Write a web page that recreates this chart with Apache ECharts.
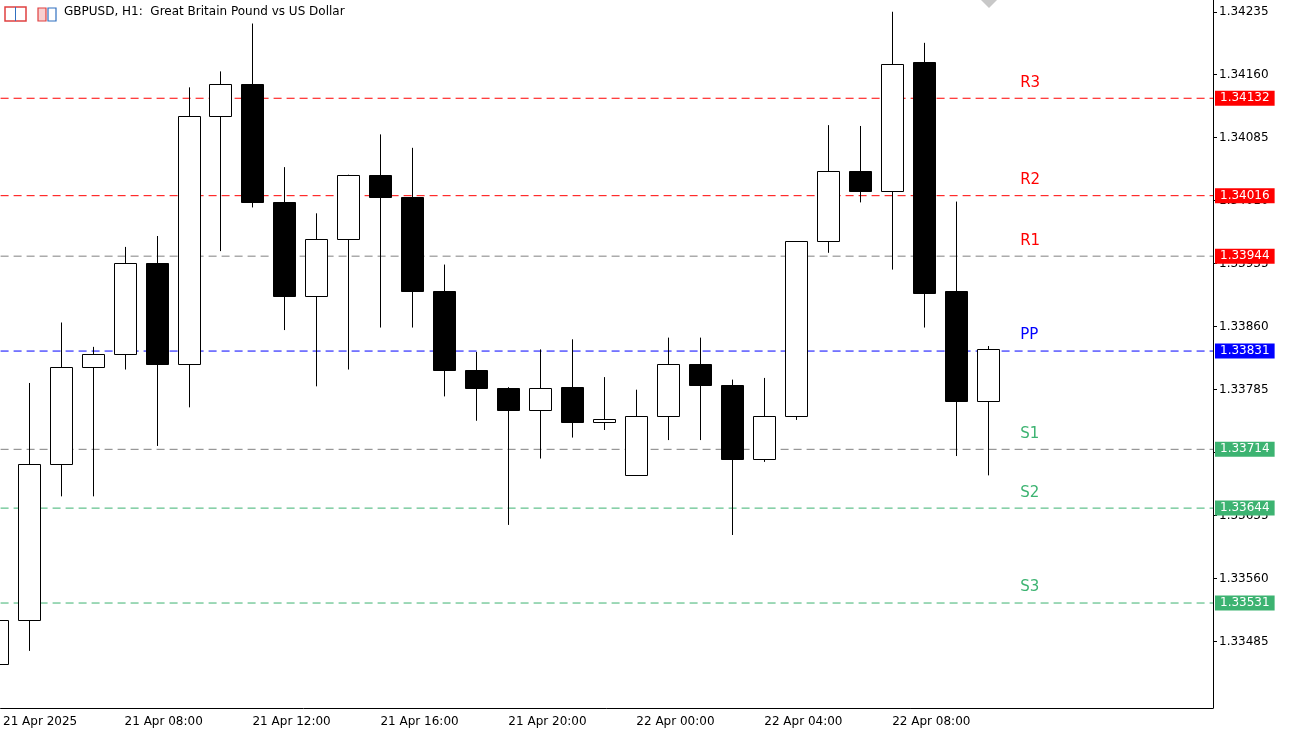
<!DOCTYPE html><html><head><meta charset="utf-8">
<script src="https://cdn.jsdelivr.net/npm/echarts@6/dist/echarts.min.js"></script>
<style>html,body{margin:0;padding:0;background:#fff}#c{width:1291px;height:732px}</style></head><body><div id="c"></div>
<script>
// hours from 21 Apr 04:00
const hours = [0,1,2,3,4,5,6,7,8,9,10,11,12,13,14,15,16,17,18,19,20,21,22,23,24,25,26,27,28,29,30,31];
const opens  = [1.33458,1.33511,1.33696,1.33812,1.33827,1.33936,1.33815,1.34111,1.34149,1.34008,1.33897,1.33965,1.34041,1.34015,1.33903,1.33808,1.33787,1.33761,1.33788,1.33747,1.33684,1.33754,1.33815,1.33791,1.33703,1.33754,1.33962,1.34045,1.34022,1.34175,1.33903,1.33771];
const closes = [1.33511,1.33697,1.33812,1.33827,1.33936,1.33815,1.34111,1.34149,1.34008,1.33897,1.33965,1.34041,1.34015,1.33903,1.33808,1.33787,1.33761,1.33787,1.33747,1.33750,1.33754,1.33815,1.33791,1.33703,1.33754,1.33962,1.34045,1.34022,1.34173,1.33900,1.33771,1.33833];
const lows   = [1.33454,1.33474,1.33658,1.33658,1.33809,1.33718,1.33764,1.33950,1.34002,1.33856,1.33789,1.33809,1.33859,1.33859,1.33777,1.33748,1.33624,1.33703,1.33728,1.33737,1.33684,1.33725,1.33725,1.33612,1.33699,1.33749,1.33948,1.34008,1.33928,1.33859,1.33706,1.33683];
const highs  = [1.33514,1.33793,1.33865,1.33836,1.33955,1.33968,1.34145,1.34164,1.34221,1.34050,1.33995,1.34041,1.34089,1.34073,1.33934,1.33830,1.33788,1.33833,1.33845,1.33800,1.33785,1.33847,1.33847,1.33797,1.33799,1.33962,1.34100,1.34099,1.34235,1.34198,1.34009,1.33837];
const levelNames = ['R3','R2','R1','PP','S1','S2','S3'];
const levelValues = [1.34132,1.34016,1.33944,1.33831,1.33714,1.33644,1.33531];
const levelColors = ['#ff0000','#ff0000','#808080','#0000ff','#808080','#3cb371','#3cb371'];
const labelColors = ['#ff0000','#ff0000','#ff0000','#0000ff','#3cb371','#3cb371','#3cb371'];
const priceTicks = [1.34235,1.34160,1.34085,1.34010,1.33935,1.33860,1.33785,1.33710,1.33635,1.33560,1.33485];
const timeTicks = [0.2,4,8,12,16,20,24,28];
const timeLabels = ['21 Apr 2025','21 Apr 08:00','21 Apr 12:00','21 Apr 16:00','21 Apr 20:00','22 Apr 00:00','22 Apr 04:00','22 Apr 08:00'];
</script>
<script>
const XMIN=0.125, XMAX=38.03, LABEL_X=32.0;
const data = hours.map((h,i)=>[h,opens[i],closes[i],lows[i],highs[i]]);
const ch = echarts.init(document.getElementById('c'));
const font = 'Tahoma, "DejaVu Sans", sans-serif';
const series=[{type:'custom',data:data,clip:true,z:3,
    renderItem:(p,api)=>{
      const x=api.value(0),o=api.value(1),c=api.value(2),l=api.value(3),h=api.value(4);
      const po=api.coord([x,o]),pc=api.coord([x,c]),pl=api.coord([x,l]),ph=api.coord([x,h]);
      const cx=Math.round(po[0])+0.5; const top=Math.round(Math.min(po[1],pc[1]))+0.5,bot=Math.round(Math.max(po[1],pc[1]))+0.5;
      const bull=c>=o;
      return {type:'group',children:[
        {type:'line',shape:{x1:cx,y1:ph[1],x2:cx,y2:top},style:{stroke:'#000',lineWidth:1}},
        {type:'line',shape:{x1:cx,y1:bot,x2:cx,y2:pl[1]},style:{stroke:'#000',lineWidth:1}},
        {type:'rect',shape:{x:cx-11,y:top,width:22,height:Math.max(bot-top,1)},style:{fill:bull?'#fff':'#000',stroke:'#000',lineWidth:1}}
      ]};
    }},
  {type:'custom',data:levelValues.map((v,i)=>[LABEL_X,v,i]),z:4,
    renderItem:(p,api)=>{const i=api.value(2);const pt=api.coord([api.value(0),api.value(1)]);
      return {type:'text',x:pt[0],y:pt[1]-8,style:{text:levelNames[i],fill:labelColors[i],font:'15px '+font,align:'left',verticalAlign:'bottom'}};}}
];
levelValues.forEach((v,i)=>series.push({type:'line',data:[[XMIN,v],[XMAX,v]],symbol:'none',silent:true,z:2,
  lineStyle:{color:levelColors[i],type:[8,5],width:1,opacity:1},
  emphasis:{disabled:true},
  endLabel:{show:true,formatter:v.toFixed(5),color:'#fff',backgroundColor:labelColors[i],fontSize:12,fontFamily:font,padding:[2,5,1,5],distance:2}}));
ch.setOption({
  animation:false,
  grid:{left:0,right:78,top:0,bottom:24},
  xAxis:{type:'value',min:XMIN,max:XMAX,
    axisLine:{show:true,onZero:false,lineStyle:{color:'#000'}},
    splitLine:{show:false},
    axisTick:{show:false},
    axisLabel:{customValues:timeTicks,formatter:v=>timeLabels[timeTicks.indexOf(v)],align:'left',color:'#000',fontSize:12,fontFamily:font,margin:8}},
  yAxis:{type:'value',position:'right',min:1.33406,max:1.34249,
    axisLine:{show:true,lineStyle:{color:'#000'}},splitLine:{show:false},
    axisTick:{show:true,customValues:priceTicks,length:4,lineStyle:{color:'#000'}},
    axisLabel:{customValues:priceTicks,formatter:v=>v.toFixed(5),color:'#000',fontSize:12,fontFamily:font,margin:6}},
  series:series,
  graphic:[
    {type:'text',left:64,top:6,style:{text:'GBPUSD, H1:  Great Britain Pound vs US Dollar',fill:'#000',font:'12px '+font}},
    {type:'rect',shape:{x:5,y:7,width:21,height:14},style:{fill:'#fff',stroke:'#e04040',lineWidth:1.5}},
    {type:'line',shape:{x1:15.5,y1:7,x2:15.5,y2:21},style:{stroke:'#3070c0',lineWidth:1}},
    {type:'rect',shape:{x:38,y:8,width:8,height:13},style:{fill:'#f8d0d0',stroke:'#e04040',lineWidth:1.2}},
    {type:'rect',shape:{x:48,y:8,width:8,height:13},style:{fill:'#fff',stroke:'#3070c0',lineWidth:1.2}},
    {type:'polygon',shape:{points:[[981,0],[997,0],[989,8]]},style:{fill:'#c8c8c8'}}
  ]
});
</script></body></html>
